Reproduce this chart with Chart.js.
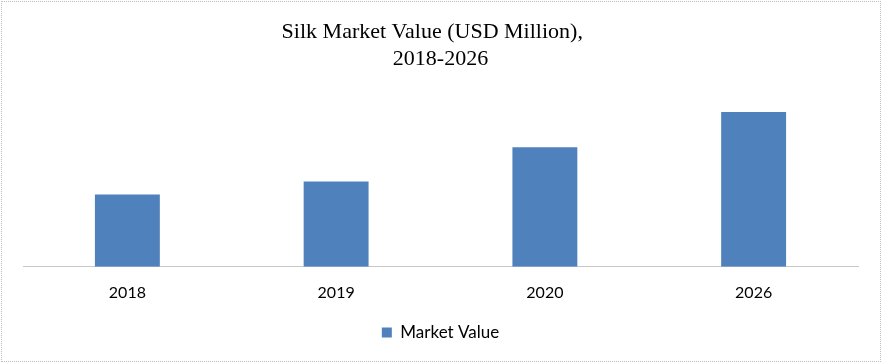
<!DOCTYPE html>
<html>
<head>
<meta charset="utf-8">
<script src="https://cdn.jsdelivr.net/npm/chart.js@4.4.0/dist/chart.umd.min.js"></script>
<style>
  html, body { margin: 0; padding: 0; background: #fff; }
  #wrap { position: relative; width: 882px; height: 363px; overflow: hidden; }
  #frame { position: absolute; left: 1px; top: 1px; width: 878px; height: 359px; border: 1px dotted #bdbdbd; pointer-events: none; }
  canvas { position: absolute; left: 0; top: 0; }
</style>
</head>
<body>
<div id="wrap">
  <canvas id="c" width="882" height="363"></canvas>
  <div id="frame"></div>
</div>
<script>
const categories = ["2018", "2019", "2020", "2026"];
const marketValue = [72, 85, 119, 154];
const titleLines = ["Silk Market Value (USD Million),   ", "2018-2026"];
const seriesLabel = "Market Value";

new Chart(document.getElementById('c'), {
  type: 'bar',
  data: {
    labels: categories,
    datasets: [{
      label: seriesLabel,
      data: marketValue,
      backgroundColor: '#4F81BD',
      borderWidth: 0,
      categoryPercentage: 1,
      barPercentage: 0.311
    }]
  },
  options: {
    responsive: false,
    animation: false,
    devicePixelRatio: 1,
    layout: { padding: { left: 23, right: 24, top: 0, bottom: 12 } },
    plugins: {
      title: {
        display: true,
        text: titleLines,
        color: '#000',
        font: { family: '"Liberation Serif", "Times New Roman", serif', size: 22, weight: 'normal', lineHeight: 1.25 },
        padding: { top: 18, bottom: 13 }
      },
      legend: {
        display: true,
        position: 'bottom',
        labels: {
          color: '#000',
          boxWidth: 10,
          boxHeight: 10,
          padding: 4,
          font: { family: 'Lato, "Open Sans", sans-serif', size: 17 }
        }
      },
      tooltip: { enabled: false }
    },
    scales: {
      x: {
        grid: { display: false, drawTicks: false },
        border: { display: true, color: '#c8c8c8', width: 1, dash: [2, 1] },
        ticks: { color: '#000', padding: 16, font: { family: 'Lato, "Open Sans", sans-serif', size: 16 } },
        afterFit: (s) => { s.height += 2; }
      },
      y: {
        display: false,
        min: 0,
        max: 180
      }
    }
  }
});
</script>
</body>
</html>
